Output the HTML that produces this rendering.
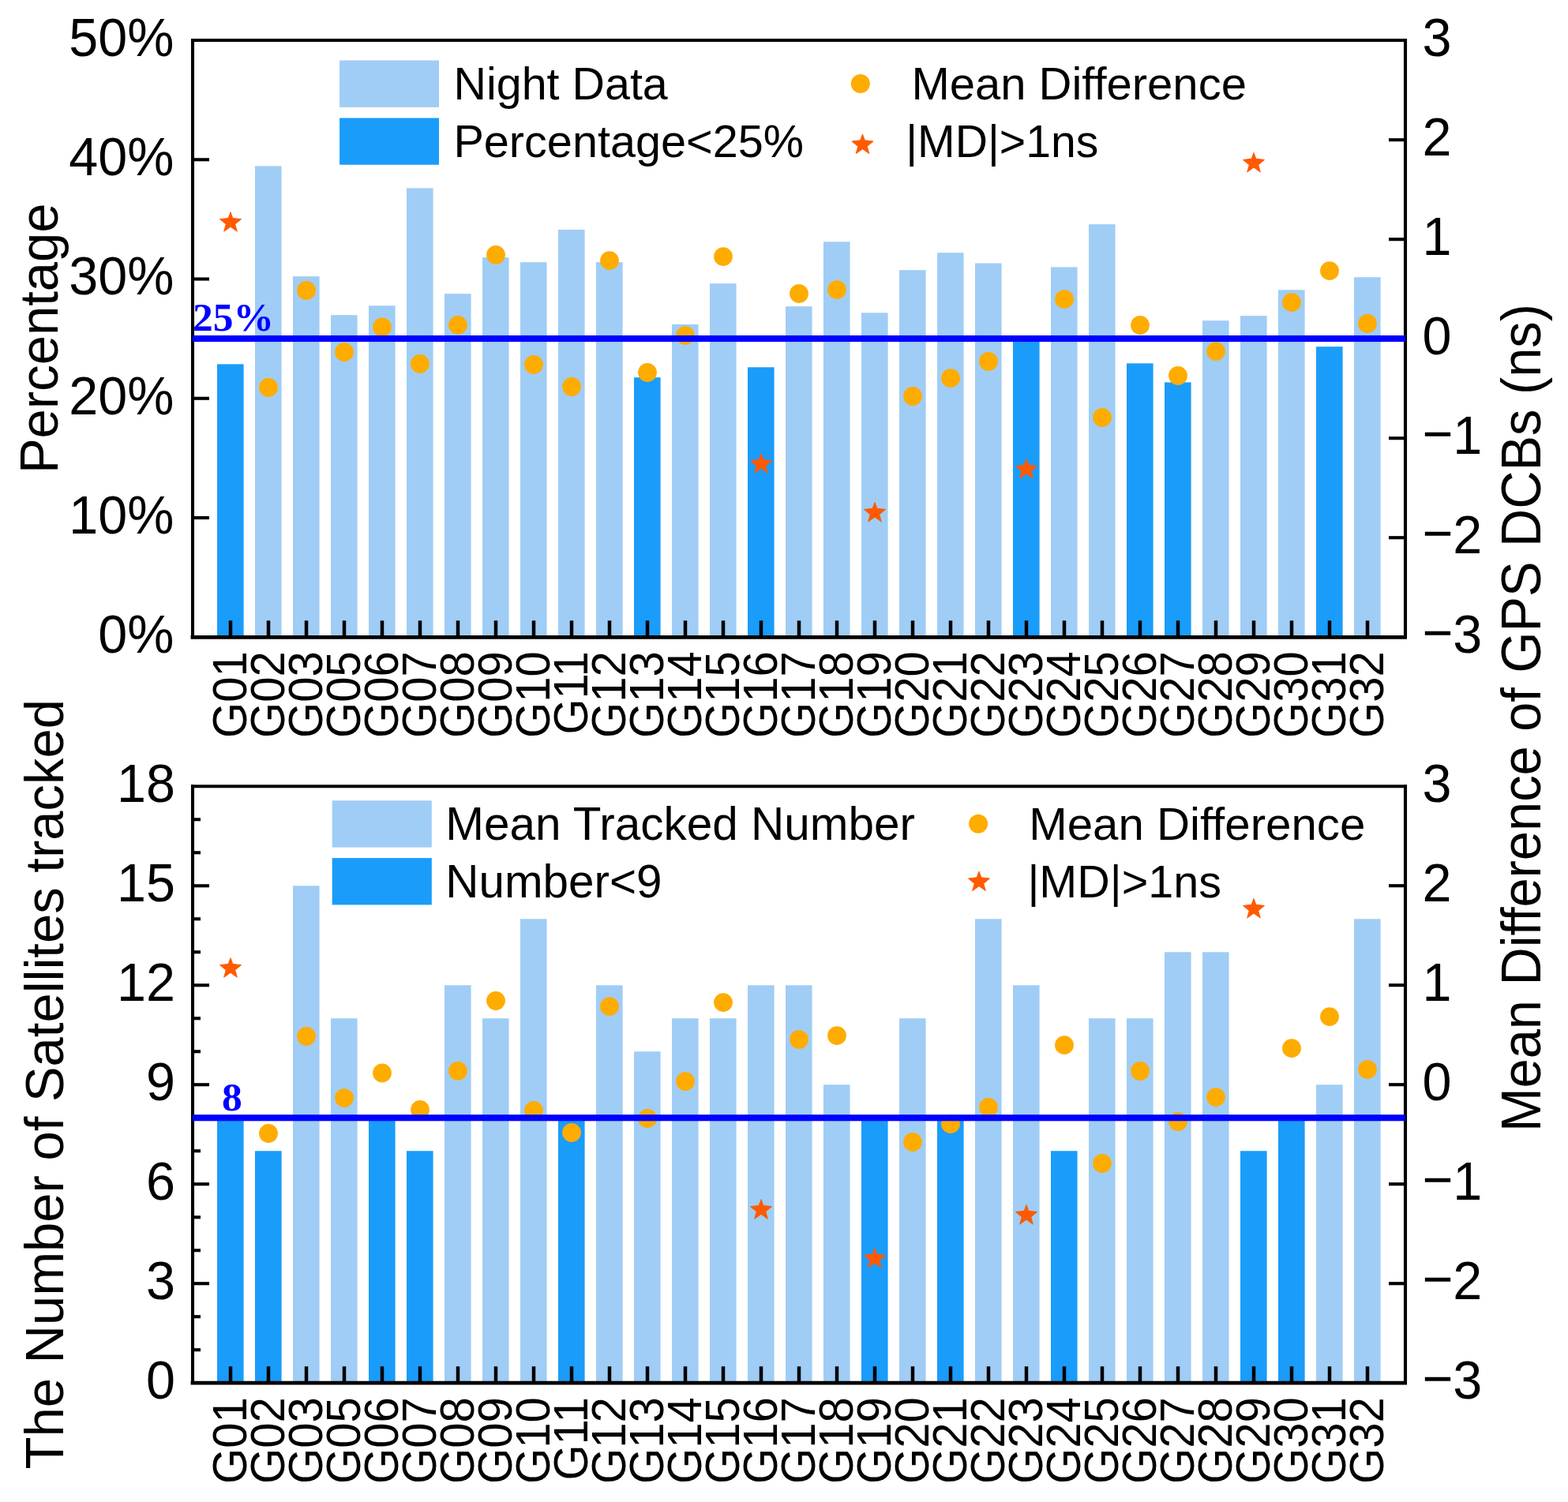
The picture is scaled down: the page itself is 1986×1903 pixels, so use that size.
<!DOCTYPE html>
<html><head><meta charset="utf-8"><title>GPS DCB chart</title>
<style>
html,body{margin:0;padding:0;background:#fff;}
svg{display:block;}
text{font-family:"Liberation Sans",Arial,sans-serif;fill:#000;}
</style></head><body>
<svg width="1986" height="1903" viewBox="0 0 1986 1903">
<rect x="0" y="0" width="1986" height="1903" fill="#fff"/>
<rect x="275.00" y="461.40" width="33.6" height="345.90" fill="#1A9CFA"/>
<rect x="323.00" y="210.40" width="33.6" height="596.90" fill="#A0CDF5"/>
<rect x="371.00" y="350.20" width="33.6" height="457.10" fill="#A0CDF5"/>
<rect x="419.00" y="399.20" width="33.6" height="408.10" fill="#A0CDF5"/>
<rect x="467.00" y="387.30" width="33.6" height="420.00" fill="#A0CDF5"/>
<rect x="515.00" y="238.40" width="33.6" height="568.90" fill="#A0CDF5"/>
<rect x="563.00" y="372.20" width="33.6" height="435.10" fill="#A0CDF5"/>
<rect x="611.00" y="326.20" width="33.6" height="481.10" fill="#A0CDF5"/>
<rect x="659.00" y="332.20" width="33.6" height="475.10" fill="#A0CDF5"/>
<rect x="707.00" y="291.00" width="33.6" height="516.30" fill="#A0CDF5"/>
<rect x="755.00" y="332.20" width="33.6" height="475.10" fill="#A0CDF5"/>
<rect x="803.00" y="478.20" width="33.6" height="329.10" fill="#1A9CFA"/>
<rect x="851.00" y="411.00" width="33.6" height="396.30" fill="#A0CDF5"/>
<rect x="899.00" y="359.20" width="33.6" height="448.10" fill="#A0CDF5"/>
<rect x="947.00" y="465.30" width="33.6" height="342.00" fill="#1A9CFA"/>
<rect x="995.00" y="388.20" width="33.6" height="419.10" fill="#A0CDF5"/>
<rect x="1043.00" y="306.30" width="33.6" height="501.00" fill="#A0CDF5"/>
<rect x="1091.00" y="396.30" width="33.6" height="411.00" fill="#A0CDF5"/>
<rect x="1139.00" y="342.20" width="33.6" height="465.10" fill="#A0CDF5"/>
<rect x="1187.00" y="320.20" width="33.6" height="487.10" fill="#A0CDF5"/>
<rect x="1235.00" y="333.50" width="33.6" height="473.80" fill="#A0CDF5"/>
<rect x="1283.00" y="430.00" width="33.6" height="377.30" fill="#1A9CFA"/>
<rect x="1331.00" y="338.40" width="33.6" height="468.90" fill="#A0CDF5"/>
<rect x="1379.00" y="284.20" width="33.6" height="523.10" fill="#A0CDF5"/>
<rect x="1427.00" y="460.40" width="33.6" height="346.90" fill="#1A9CFA"/>
<rect x="1475.00" y="484.40" width="33.6" height="322.90" fill="#1A9CFA"/>
<rect x="1523.00" y="406.20" width="33.6" height="401.10" fill="#A0CDF5"/>
<rect x="1571.00" y="400.10" width="33.6" height="407.20" fill="#A0CDF5"/>
<rect x="1619.00" y="367.30" width="33.6" height="440.00" fill="#A0CDF5"/>
<rect x="1667.00" y="439.20" width="33.6" height="368.10" fill="#1A9CFA"/>
<rect x="1715.00" y="351.20" width="33.6" height="456.10" fill="#A0CDF5"/>
<path d="M292.00,268.70 L294.79,276.40 L305.48,277.67 L297.72,284.08 L300.29,293.21 L292.00,287.30 L283.71,293.21 L286.28,284.08 L278.52,277.67 L289.21,276.40Z" fill="#FF5A00" stroke="#FF5A00" stroke-width="1" stroke-linejoin="round"/>
<circle cx="340" cy="491.00" r="11.9" fill="#FFAC00"/>
<circle cx="388" cy="368.00" r="11.9" fill="#FFAC00"/>
<circle cx="436" cy="446.10" r="11.9" fill="#FFAC00"/>
<circle cx="484" cy="414.50" r="11.9" fill="#FFAC00"/>
<circle cx="532" cy="461.00" r="11.9" fill="#FFAC00"/>
<circle cx="580" cy="411.80" r="11.9" fill="#FFAC00"/>
<circle cx="628" cy="323.00" r="11.9" fill="#FFAC00"/>
<circle cx="676" cy="462.00" r="11.9" fill="#FFAC00"/>
<circle cx="724" cy="490.00" r="11.9" fill="#FFAC00"/>
<circle cx="772" cy="330.20" r="11.9" fill="#FFAC00"/>
<circle cx="820" cy="472.00" r="11.9" fill="#FFAC00"/>
<circle cx="868" cy="425.10" r="11.9" fill="#FFAC00"/>
<circle cx="916" cy="325.10" r="11.9" fill="#FFAC00"/>
<path d="M964.00,574.70 L966.79,582.40 L977.48,583.67 L969.72,590.08 L972.29,599.21 L964.00,593.30 L955.71,599.21 L958.28,590.08 L950.52,583.67 L961.21,582.40Z" fill="#FF5A00" stroke="#FF5A00" stroke-width="1" stroke-linejoin="round"/>
<circle cx="1012" cy="372.00" r="11.9" fill="#FFAC00"/>
<circle cx="1060" cy="367.10" r="11.9" fill="#FFAC00"/>
<path d="M1108.00,636.50 L1110.79,644.20 L1121.48,645.47 L1113.72,651.88 L1116.29,661.01 L1108.00,655.10 L1099.71,661.01 L1102.28,651.88 L1094.52,645.47 L1105.21,644.20Z" fill="#FF5A00" stroke="#FF5A00" stroke-width="1" stroke-linejoin="round"/>
<circle cx="1156" cy="502.00" r="11.9" fill="#FFAC00"/>
<circle cx="1204" cy="479.20" r="11.9" fill="#FFAC00"/>
<circle cx="1252" cy="458.00" r="11.9" fill="#FFAC00"/>
<path d="M1300.00,581.60 L1302.79,589.30 L1313.48,590.57 L1305.72,596.98 L1308.29,606.11 L1300.00,600.20 L1291.71,606.11 L1294.28,596.98 L1286.52,590.57 L1297.21,589.30Z" fill="#FF5A00" stroke="#FF5A00" stroke-width="1" stroke-linejoin="round"/>
<circle cx="1348" cy="379.20" r="11.9" fill="#FFAC00"/>
<circle cx="1396" cy="529.00" r="11.9" fill="#FFAC00"/>
<circle cx="1444" cy="412.00" r="11.9" fill="#FFAC00"/>
<circle cx="1492" cy="476.00" r="11.9" fill="#FFAC00"/>
<circle cx="1540" cy="445.10" r="11.9" fill="#FFAC00"/>
<path d="M1588.00,193.50 L1590.79,201.20 L1601.48,202.47 L1593.72,208.88 L1596.29,218.01 L1588.00,212.10 L1579.71,218.01 L1582.28,208.88 L1574.52,202.47 L1585.21,201.20Z" fill="#FF5A00" stroke="#FF5A00" stroke-width="1" stroke-linejoin="round"/>
<circle cx="1636" cy="383.20" r="11.9" fill="#FFAC00"/>
<circle cx="1684" cy="343.20" r="11.9" fill="#FFAC00"/>
<circle cx="1732" cy="410.00" r="11.9" fill="#FFAC00"/>
<line x1="242" y1="51.00" x2="1782" y2="51.00" stroke="#000" stroke-width="3.9"/>
<line x1="241.6" y1="807.30" x2="1782" y2="807.30" stroke="#000" stroke-width="4.8"/>
<line x1="244" y1="49.05" x2="244" y2="807.30" stroke="#000" stroke-width="4.1"/>
<line x1="1780" y1="49.05" x2="1780" y2="807.30" stroke="#000" stroke-width="4.1"/>
<line x1="292" y1="807.30" x2="292" y2="786.30" stroke="#000" stroke-width="4.5"/>
<line x1="340" y1="807.30" x2="340" y2="786.30" stroke="#000" stroke-width="4.5"/>
<line x1="388" y1="807.30" x2="388" y2="786.30" stroke="#000" stroke-width="4.5"/>
<line x1="436" y1="807.30" x2="436" y2="786.30" stroke="#000" stroke-width="4.5"/>
<line x1="484" y1="807.30" x2="484" y2="786.30" stroke="#000" stroke-width="4.5"/>
<line x1="532" y1="807.30" x2="532" y2="786.30" stroke="#000" stroke-width="4.5"/>
<line x1="580" y1="807.30" x2="580" y2="786.30" stroke="#000" stroke-width="4.5"/>
<line x1="628" y1="807.30" x2="628" y2="786.30" stroke="#000" stroke-width="4.5"/>
<line x1="676" y1="807.30" x2="676" y2="786.30" stroke="#000" stroke-width="4.5"/>
<line x1="724" y1="807.30" x2="724" y2="786.30" stroke="#000" stroke-width="4.5"/>
<line x1="772" y1="807.30" x2="772" y2="786.30" stroke="#000" stroke-width="4.5"/>
<line x1="820" y1="807.30" x2="820" y2="786.30" stroke="#000" stroke-width="4.5"/>
<line x1="868" y1="807.30" x2="868" y2="786.30" stroke="#000" stroke-width="4.5"/>
<line x1="916" y1="807.30" x2="916" y2="786.30" stroke="#000" stroke-width="4.5"/>
<line x1="964" y1="807.30" x2="964" y2="786.30" stroke="#000" stroke-width="4.5"/>
<line x1="1012" y1="807.30" x2="1012" y2="786.30" stroke="#000" stroke-width="4.5"/>
<line x1="1060" y1="807.30" x2="1060" y2="786.30" stroke="#000" stroke-width="4.5"/>
<line x1="1108" y1="807.30" x2="1108" y2="786.30" stroke="#000" stroke-width="4.5"/>
<line x1="1156" y1="807.30" x2="1156" y2="786.30" stroke="#000" stroke-width="4.5"/>
<line x1="1204" y1="807.30" x2="1204" y2="786.30" stroke="#000" stroke-width="4.5"/>
<line x1="1252" y1="807.30" x2="1252" y2="786.30" stroke="#000" stroke-width="4.5"/>
<line x1="1300" y1="807.30" x2="1300" y2="786.30" stroke="#000" stroke-width="4.5"/>
<line x1="1348" y1="807.30" x2="1348" y2="786.30" stroke="#000" stroke-width="4.5"/>
<line x1="1396" y1="807.30" x2="1396" y2="786.30" stroke="#000" stroke-width="4.5"/>
<line x1="1444" y1="807.30" x2="1444" y2="786.30" stroke="#000" stroke-width="4.5"/>
<line x1="1492" y1="807.30" x2="1492" y2="786.30" stroke="#000" stroke-width="4.5"/>
<line x1="1540" y1="807.30" x2="1540" y2="786.30" stroke="#000" stroke-width="4.5"/>
<line x1="1588" y1="807.30" x2="1588" y2="786.30" stroke="#000" stroke-width="4.5"/>
<line x1="1636" y1="807.30" x2="1636" y2="786.30" stroke="#000" stroke-width="4.5"/>
<line x1="1684" y1="807.30" x2="1684" y2="786.30" stroke="#000" stroke-width="4.5"/>
<line x1="1732" y1="807.30" x2="1732" y2="786.30" stroke="#000" stroke-width="4.5"/>
<line x1="244" y1="656.04" x2="265.00" y2="656.04" stroke="#000" stroke-width="4.1"/>
<line x1="244" y1="504.78" x2="265.00" y2="504.78" stroke="#000" stroke-width="4.1"/>
<line x1="244" y1="353.52" x2="265.00" y2="353.52" stroke="#000" stroke-width="4.1"/>
<line x1="244" y1="202.26" x2="265.00" y2="202.26" stroke="#000" stroke-width="4.1"/>
<line x1="1780" y1="681.20" x2="1759" y2="681.20" stroke="#000" stroke-width="4.1"/>
<line x1="1780" y1="555.20" x2="1759" y2="555.20" stroke="#000" stroke-width="4.1"/>
<line x1="1780" y1="303.20" x2="1759" y2="303.20" stroke="#000" stroke-width="4.1"/>
<line x1="1780" y1="177.20" x2="1759" y2="177.20" stroke="#000" stroke-width="4.1"/>
<line x1="1780" y1="429.20" x2="1759" y2="429.20" stroke="#000" stroke-width="4.1"/>
<rect x="244" y="424.95" width="1536" height="8.1" fill="#0000FF"/>
<text x="244.00" y="419.30" style="font-family:'Liberation Serif',serif;font-weight:bold;font-size:51.5px;fill:#0000FF">25%</text>
<text transform="translate(312.00,825.30) rotate(-90) scale(1,1.05)" text-anchor="end" font-size="58">G01</text>
<text transform="translate(360.00,825.30) rotate(-90) scale(1,1.05)" text-anchor="end" font-size="58">G02</text>
<text transform="translate(408.00,825.30) rotate(-90) scale(1,1.05)" text-anchor="end" font-size="58">G03</text>
<text transform="translate(456.00,825.30) rotate(-90) scale(1,1.05)" text-anchor="end" font-size="58">G05</text>
<text transform="translate(504.00,825.30) rotate(-90) scale(1,1.05)" text-anchor="end" font-size="58">G06</text>
<text transform="translate(552.00,825.30) rotate(-90) scale(1,1.05)" text-anchor="end" font-size="58">G07</text>
<text transform="translate(600.00,825.30) rotate(-90) scale(1,1.05)" text-anchor="end" font-size="58">G08</text>
<text transform="translate(648.00,825.30) rotate(-90) scale(1,1.05)" text-anchor="end" font-size="58">G09</text>
<text transform="translate(696.00,825.30) rotate(-90) scale(1,1.05)" text-anchor="end" font-size="58">G10</text>
<text transform="translate(744.00,825.30) rotate(-90) scale(1,1.05)" text-anchor="end" font-size="58">G11</text>
<text transform="translate(792.00,825.30) rotate(-90) scale(1,1.05)" text-anchor="end" font-size="58">G12</text>
<text transform="translate(840.00,825.30) rotate(-90) scale(1,1.05)" text-anchor="end" font-size="58">G13</text>
<text transform="translate(888.00,825.30) rotate(-90) scale(1,1.05)" text-anchor="end" font-size="58">G14</text>
<text transform="translate(936.00,825.30) rotate(-90) scale(1,1.05)" text-anchor="end" font-size="58">G15</text>
<text transform="translate(984.00,825.30) rotate(-90) scale(1,1.05)" text-anchor="end" font-size="58">G16</text>
<text transform="translate(1032.00,825.30) rotate(-90) scale(1,1.05)" text-anchor="end" font-size="58">G17</text>
<text transform="translate(1080.00,825.30) rotate(-90) scale(1,1.05)" text-anchor="end" font-size="58">G18</text>
<text transform="translate(1128.00,825.30) rotate(-90) scale(1,1.05)" text-anchor="end" font-size="58">G19</text>
<text transform="translate(1176.00,825.30) rotate(-90) scale(1,1.05)" text-anchor="end" font-size="58">G20</text>
<text transform="translate(1224.00,825.30) rotate(-90) scale(1,1.05)" text-anchor="end" font-size="58">G21</text>
<text transform="translate(1272.00,825.30) rotate(-90) scale(1,1.05)" text-anchor="end" font-size="58">G22</text>
<text transform="translate(1320.00,825.30) rotate(-90) scale(1,1.05)" text-anchor="end" font-size="58">G23</text>
<text transform="translate(1368.00,825.30) rotate(-90) scale(1,1.05)" text-anchor="end" font-size="58">G24</text>
<text transform="translate(1416.00,825.30) rotate(-90) scale(1,1.05)" text-anchor="end" font-size="58">G25</text>
<text transform="translate(1464.00,825.30) rotate(-90) scale(1,1.05)" text-anchor="end" font-size="58">G26</text>
<text transform="translate(1512.00,825.30) rotate(-90) scale(1,1.05)" text-anchor="end" font-size="58">G27</text>
<text transform="translate(1560.00,825.30) rotate(-90) scale(1,1.05)" text-anchor="end" font-size="58">G28</text>
<text transform="translate(1608.00,825.30) rotate(-90) scale(1,1.05)" text-anchor="end" font-size="58">G29</text>
<text transform="translate(1656.00,825.30) rotate(-90) scale(1,1.05)" text-anchor="end" font-size="58">G30</text>
<text transform="translate(1704.00,825.30) rotate(-90) scale(1,1.05)" text-anchor="end" font-size="58">G31</text>
<text transform="translate(1752.00,825.30) rotate(-90) scale(1,1.05)" text-anchor="end" font-size="58">G32</text>
<text transform="translate(1801.5,71.00) scale(1,1.036)" font-size="66.5">3</text>
<text transform="translate(1801.5,197.00) scale(1,1.036)" font-size="66.5">2</text>
<text transform="translate(1801.5,323.00) scale(1,1.036)" font-size="66.5">1</text>
<text transform="translate(1801.5,449.00) scale(1,1.036)" font-size="66.5">0</text>
<text transform="translate(1801.5,575.00) scale(1,1.036)" font-size="66.5"><tspan dy="-1.5">−</tspan><tspan dy="1.5">1</tspan></text>
<text transform="translate(1801.5,701.00) scale(1,1.036)" font-size="66.5"><tspan dy="-1.5">−</tspan><tspan dy="1.5">2</tspan></text>
<text transform="translate(1801.5,827.00) scale(1,1.036)" font-size="66.5"><tspan dy="-1.5">−</tspan><tspan dy="1.5">3</tspan></text>
<rect x="430.10" y="76.50" width="125.90" height="59.40" fill="#A0CDF5"/>
<rect x="430.10" y="149.50" width="125.90" height="59.20" fill="#1A9CFA"/>
<text x="574.50" y="126.40" font-size="57.43">Night Data</text>
<text x="574.40" y="199.10" font-size="57.61">Percentage&lt;25%</text>
<text x="1154.40" y="126.20" font-size="58.0">Mean Difference</text>
<text x="1147.20" y="199.10" font-size="57.17">|MD|&gt;1ns</text>
<circle cx="1089.80" cy="106.00" r="12" fill="#FFAC00"/>
<path d="M1092.50,170.10 L1095.29,177.80 L1105.98,179.07 L1098.22,185.48 L1100.79,194.61 L1092.50,188.70 L1084.21,194.61 L1086.78,185.48 L1079.02,179.07 L1089.71,177.80Z" fill="#FF5A00" stroke="#FF5A00" stroke-width="1" stroke-linejoin="round"/>
<text transform="translate(220.3,827.10) scale(1,1.036)" text-anchor="end" font-size="66.5">0%</text>
<text transform="translate(220.3,675.84) scale(1,1.036)" text-anchor="end" font-size="66.5">10%</text>
<text transform="translate(220.3,524.58) scale(1,1.036)" text-anchor="end" font-size="66.5">20%</text>
<text transform="translate(220.3,373.32) scale(1,1.036)" text-anchor="end" font-size="66.5">30%</text>
<text transform="translate(220.3,222.06) scale(1,1.036)" text-anchor="end" font-size="66.5">40%</text>
<text transform="translate(220.3,70.80) scale(1,1.036)" text-anchor="end" font-size="66.5">50%</text>
<rect x="275.00" y="1416.24" width="33.6" height="335.96" fill="#1A9CFA"/>
<rect x="323.00" y="1458.24" width="33.6" height="293.96" fill="#1A9CFA"/>
<rect x="371.00" y="1122.28" width="33.6" height="629.92" fill="#A0CDF5"/>
<rect x="419.00" y="1290.26" width="33.6" height="461.94" fill="#A0CDF5"/>
<rect x="467.00" y="1416.24" width="33.6" height="335.96" fill="#1A9CFA"/>
<rect x="515.00" y="1458.24" width="33.6" height="293.96" fill="#1A9CFA"/>
<rect x="563.00" y="1248.27" width="33.6" height="503.93" fill="#A0CDF5"/>
<rect x="611.00" y="1290.26" width="33.6" height="461.94" fill="#A0CDF5"/>
<rect x="659.00" y="1164.28" width="33.6" height="587.92" fill="#A0CDF5"/>
<rect x="707.00" y="1416.24" width="33.6" height="335.96" fill="#1A9CFA"/>
<rect x="755.00" y="1248.27" width="33.6" height="503.93" fill="#A0CDF5"/>
<rect x="803.00" y="1332.26" width="33.6" height="419.94" fill="#A0CDF5"/>
<rect x="851.00" y="1290.26" width="33.6" height="461.94" fill="#A0CDF5"/>
<rect x="899.00" y="1290.26" width="33.6" height="461.94" fill="#A0CDF5"/>
<rect x="947.00" y="1248.27" width="33.6" height="503.93" fill="#A0CDF5"/>
<rect x="995.00" y="1248.27" width="33.6" height="503.93" fill="#A0CDF5"/>
<rect x="1043.00" y="1374.25" width="33.6" height="377.95" fill="#A0CDF5"/>
<rect x="1091.00" y="1416.24" width="33.6" height="335.96" fill="#1A9CFA"/>
<rect x="1139.00" y="1290.26" width="33.6" height="461.94" fill="#A0CDF5"/>
<rect x="1187.00" y="1416.24" width="33.6" height="335.96" fill="#1A9CFA"/>
<rect x="1235.00" y="1164.28" width="33.6" height="587.92" fill="#A0CDF5"/>
<rect x="1283.00" y="1248.27" width="33.6" height="503.93" fill="#A0CDF5"/>
<rect x="1331.00" y="1458.24" width="33.6" height="293.96" fill="#1A9CFA"/>
<rect x="1379.00" y="1290.26" width="33.6" height="461.94" fill="#A0CDF5"/>
<rect x="1427.00" y="1290.26" width="33.6" height="461.94" fill="#A0CDF5"/>
<rect x="1475.00" y="1206.27" width="33.6" height="545.93" fill="#A0CDF5"/>
<rect x="1523.00" y="1206.27" width="33.6" height="545.93" fill="#A0CDF5"/>
<rect x="1571.00" y="1458.24" width="33.6" height="293.96" fill="#1A9CFA"/>
<rect x="1619.00" y="1416.24" width="33.6" height="335.96" fill="#1A9CFA"/>
<rect x="1667.00" y="1374.25" width="33.6" height="377.95" fill="#A0CDF5"/>
<rect x="1715.00" y="1164.28" width="33.6" height="587.92" fill="#A0CDF5"/>
<path d="M292.00,1213.70 L294.79,1221.40 L305.48,1222.67 L297.72,1229.08 L300.29,1238.21 L292.00,1232.30 L283.71,1238.21 L286.28,1229.08 L278.52,1222.67 L289.21,1221.40Z" fill="#FF5A00" stroke="#FF5A00" stroke-width="1" stroke-linejoin="round"/>
<circle cx="340" cy="1436.00" r="11.9" fill="#FFAC00"/>
<circle cx="388" cy="1313.00" r="11.9" fill="#FFAC00"/>
<circle cx="436" cy="1391.10" r="11.9" fill="#FFAC00"/>
<circle cx="484" cy="1359.50" r="11.9" fill="#FFAC00"/>
<circle cx="532" cy="1406.00" r="11.9" fill="#FFAC00"/>
<circle cx="580" cy="1356.80" r="11.9" fill="#FFAC00"/>
<circle cx="628" cy="1268.00" r="11.9" fill="#FFAC00"/>
<circle cx="676" cy="1407.00" r="11.9" fill="#FFAC00"/>
<circle cx="724" cy="1435.00" r="11.9" fill="#FFAC00"/>
<circle cx="772" cy="1275.20" r="11.9" fill="#FFAC00"/>
<circle cx="820" cy="1417.00" r="11.9" fill="#FFAC00"/>
<circle cx="868" cy="1370.10" r="11.9" fill="#FFAC00"/>
<circle cx="916" cy="1270.10" r="11.9" fill="#FFAC00"/>
<path d="M964.00,1519.70 L966.79,1527.40 L977.48,1528.67 L969.72,1535.08 L972.29,1544.21 L964.00,1538.30 L955.71,1544.21 L958.28,1535.08 L950.52,1528.67 L961.21,1527.40Z" fill="#FF5A00" stroke="#FF5A00" stroke-width="1" stroke-linejoin="round"/>
<circle cx="1012" cy="1317.00" r="11.9" fill="#FFAC00"/>
<circle cx="1060" cy="1312.10" r="11.9" fill="#FFAC00"/>
<path d="M1108.00,1581.50 L1110.79,1589.20 L1121.48,1590.47 L1113.72,1596.88 L1116.29,1606.01 L1108.00,1600.10 L1099.71,1606.01 L1102.28,1596.88 L1094.52,1590.47 L1105.21,1589.20Z" fill="#FF5A00" stroke="#FF5A00" stroke-width="1" stroke-linejoin="round"/>
<circle cx="1156" cy="1447.00" r="11.9" fill="#FFAC00"/>
<circle cx="1204" cy="1424.20" r="11.9" fill="#FFAC00"/>
<circle cx="1252" cy="1403.00" r="11.9" fill="#FFAC00"/>
<path d="M1300.00,1526.60 L1302.79,1534.30 L1313.48,1535.57 L1305.72,1541.98 L1308.29,1551.11 L1300.00,1545.20 L1291.71,1551.11 L1294.28,1541.98 L1286.52,1535.57 L1297.21,1534.30Z" fill="#FF5A00" stroke="#FF5A00" stroke-width="1" stroke-linejoin="round"/>
<circle cx="1348" cy="1324.20" r="11.9" fill="#FFAC00"/>
<circle cx="1396" cy="1474.00" r="11.9" fill="#FFAC00"/>
<circle cx="1444" cy="1357.00" r="11.9" fill="#FFAC00"/>
<circle cx="1492" cy="1421.00" r="11.9" fill="#FFAC00"/>
<circle cx="1540" cy="1390.10" r="11.9" fill="#FFAC00"/>
<path d="M1588.00,1138.50 L1590.79,1146.20 L1601.48,1147.47 L1593.72,1153.88 L1596.29,1163.01 L1588.00,1157.10 L1579.71,1163.01 L1582.28,1153.88 L1574.52,1147.47 L1585.21,1146.20Z" fill="#FF5A00" stroke="#FF5A00" stroke-width="1" stroke-linejoin="round"/>
<circle cx="1636" cy="1328.20" r="11.9" fill="#FFAC00"/>
<circle cx="1684" cy="1288.20" r="11.9" fill="#FFAC00"/>
<circle cx="1732" cy="1355.00" r="11.9" fill="#FFAC00"/>
<line x1="242" y1="996.30" x2="1782" y2="996.30" stroke="#000" stroke-width="3.9"/>
<line x1="241.6" y1="1752.20" x2="1782" y2="1752.20" stroke="#000" stroke-width="4.8"/>
<line x1="244" y1="994.35" x2="244" y2="1752.20" stroke="#000" stroke-width="4.1"/>
<line x1="1780" y1="994.35" x2="1780" y2="1752.20" stroke="#000" stroke-width="4.1"/>
<line x1="292" y1="1752.20" x2="292" y2="1731.20" stroke="#000" stroke-width="4.5"/>
<line x1="340" y1="1752.20" x2="340" y2="1731.20" stroke="#000" stroke-width="4.5"/>
<line x1="388" y1="1752.20" x2="388" y2="1731.20" stroke="#000" stroke-width="4.5"/>
<line x1="436" y1="1752.20" x2="436" y2="1731.20" stroke="#000" stroke-width="4.5"/>
<line x1="484" y1="1752.20" x2="484" y2="1731.20" stroke="#000" stroke-width="4.5"/>
<line x1="532" y1="1752.20" x2="532" y2="1731.20" stroke="#000" stroke-width="4.5"/>
<line x1="580" y1="1752.20" x2="580" y2="1731.20" stroke="#000" stroke-width="4.5"/>
<line x1="628" y1="1752.20" x2="628" y2="1731.20" stroke="#000" stroke-width="4.5"/>
<line x1="676" y1="1752.20" x2="676" y2="1731.20" stroke="#000" stroke-width="4.5"/>
<line x1="724" y1="1752.20" x2="724" y2="1731.20" stroke="#000" stroke-width="4.5"/>
<line x1="772" y1="1752.20" x2="772" y2="1731.20" stroke="#000" stroke-width="4.5"/>
<line x1="820" y1="1752.20" x2="820" y2="1731.20" stroke="#000" stroke-width="4.5"/>
<line x1="868" y1="1752.20" x2="868" y2="1731.20" stroke="#000" stroke-width="4.5"/>
<line x1="916" y1="1752.20" x2="916" y2="1731.20" stroke="#000" stroke-width="4.5"/>
<line x1="964" y1="1752.20" x2="964" y2="1731.20" stroke="#000" stroke-width="4.5"/>
<line x1="1012" y1="1752.20" x2="1012" y2="1731.20" stroke="#000" stroke-width="4.5"/>
<line x1="1060" y1="1752.20" x2="1060" y2="1731.20" stroke="#000" stroke-width="4.5"/>
<line x1="1108" y1="1752.20" x2="1108" y2="1731.20" stroke="#000" stroke-width="4.5"/>
<line x1="1156" y1="1752.20" x2="1156" y2="1731.20" stroke="#000" stroke-width="4.5"/>
<line x1="1204" y1="1752.20" x2="1204" y2="1731.20" stroke="#000" stroke-width="4.5"/>
<line x1="1252" y1="1752.20" x2="1252" y2="1731.20" stroke="#000" stroke-width="4.5"/>
<line x1="1300" y1="1752.20" x2="1300" y2="1731.20" stroke="#000" stroke-width="4.5"/>
<line x1="1348" y1="1752.20" x2="1348" y2="1731.20" stroke="#000" stroke-width="4.5"/>
<line x1="1396" y1="1752.20" x2="1396" y2="1731.20" stroke="#000" stroke-width="4.5"/>
<line x1="1444" y1="1752.20" x2="1444" y2="1731.20" stroke="#000" stroke-width="4.5"/>
<line x1="1492" y1="1752.20" x2="1492" y2="1731.20" stroke="#000" stroke-width="4.5"/>
<line x1="1540" y1="1752.20" x2="1540" y2="1731.20" stroke="#000" stroke-width="4.5"/>
<line x1="1588" y1="1752.20" x2="1588" y2="1731.20" stroke="#000" stroke-width="4.5"/>
<line x1="1636" y1="1752.20" x2="1636" y2="1731.20" stroke="#000" stroke-width="4.5"/>
<line x1="1684" y1="1752.20" x2="1684" y2="1731.20" stroke="#000" stroke-width="4.5"/>
<line x1="1732" y1="1752.20" x2="1732" y2="1731.20" stroke="#000" stroke-width="4.5"/>
<line x1="244" y1="1710.21" x2="254.00" y2="1710.21" stroke="#000" stroke-width="4.1"/>
<line x1="244" y1="1668.21" x2="254.00" y2="1668.21" stroke="#000" stroke-width="4.1"/>
<line x1="244" y1="1626.22" x2="265.00" y2="1626.22" stroke="#000" stroke-width="4.1"/>
<line x1="244" y1="1584.22" x2="254.00" y2="1584.22" stroke="#000" stroke-width="4.1"/>
<line x1="244" y1="1542.23" x2="254.00" y2="1542.23" stroke="#000" stroke-width="4.1"/>
<line x1="244" y1="1500.23" x2="265.00" y2="1500.23" stroke="#000" stroke-width="4.1"/>
<line x1="244" y1="1458.24" x2="254.00" y2="1458.24" stroke="#000" stroke-width="4.1"/>
<line x1="244" y1="1416.24" x2="254.00" y2="1416.24" stroke="#000" stroke-width="4.1"/>
<line x1="244" y1="1374.25" x2="265.00" y2="1374.25" stroke="#000" stroke-width="4.1"/>
<line x1="244" y1="1332.26" x2="254.00" y2="1332.26" stroke="#000" stroke-width="4.1"/>
<line x1="244" y1="1290.26" x2="254.00" y2="1290.26" stroke="#000" stroke-width="4.1"/>
<line x1="244" y1="1248.27" x2="265.00" y2="1248.27" stroke="#000" stroke-width="4.1"/>
<line x1="244" y1="1206.27" x2="254.00" y2="1206.27" stroke="#000" stroke-width="4.1"/>
<line x1="244" y1="1164.28" x2="254.00" y2="1164.28" stroke="#000" stroke-width="4.1"/>
<line x1="244" y1="1122.28" x2="265.00" y2="1122.28" stroke="#000" stroke-width="4.1"/>
<line x1="244" y1="1080.29" x2="254.00" y2="1080.29" stroke="#000" stroke-width="4.1"/>
<line x1="244" y1="1038.29" x2="254.00" y2="1038.29" stroke="#000" stroke-width="4.1"/>
<line x1="1780" y1="1626.20" x2="1759" y2="1626.20" stroke="#000" stroke-width="4.1"/>
<line x1="1780" y1="1500.20" x2="1759" y2="1500.20" stroke="#000" stroke-width="4.1"/>
<line x1="1780" y1="1248.20" x2="1759" y2="1248.20" stroke="#000" stroke-width="4.1"/>
<line x1="1780" y1="1122.20" x2="1759" y2="1122.20" stroke="#000" stroke-width="4.1"/>
<line x1="1780" y1="1374.20" x2="1759" y2="1374.20" stroke="#000" stroke-width="4.1"/>
<rect x="244" y="1412.19" width="1536" height="8.1" fill="#0000FF"/>
<text x="281.00" y="1407.30" style="font-family:'Liberation Serif',serif;font-weight:bold;font-size:51.5px;fill:#0000FF">8</text>
<text transform="translate(312.00,1770.30) rotate(-90) scale(1,1.05)" text-anchor="end" font-size="58">G01</text>
<text transform="translate(360.00,1770.30) rotate(-90) scale(1,1.05)" text-anchor="end" font-size="58">G02</text>
<text transform="translate(408.00,1770.30) rotate(-90) scale(1,1.05)" text-anchor="end" font-size="58">G03</text>
<text transform="translate(456.00,1770.30) rotate(-90) scale(1,1.05)" text-anchor="end" font-size="58">G05</text>
<text transform="translate(504.00,1770.30) rotate(-90) scale(1,1.05)" text-anchor="end" font-size="58">G06</text>
<text transform="translate(552.00,1770.30) rotate(-90) scale(1,1.05)" text-anchor="end" font-size="58">G07</text>
<text transform="translate(600.00,1770.30) rotate(-90) scale(1,1.05)" text-anchor="end" font-size="58">G08</text>
<text transform="translate(648.00,1770.30) rotate(-90) scale(1,1.05)" text-anchor="end" font-size="58">G09</text>
<text transform="translate(696.00,1770.30) rotate(-90) scale(1,1.05)" text-anchor="end" font-size="58">G10</text>
<text transform="translate(744.00,1770.30) rotate(-90) scale(1,1.05)" text-anchor="end" font-size="58">G11</text>
<text transform="translate(792.00,1770.30) rotate(-90) scale(1,1.05)" text-anchor="end" font-size="58">G12</text>
<text transform="translate(840.00,1770.30) rotate(-90) scale(1,1.05)" text-anchor="end" font-size="58">G13</text>
<text transform="translate(888.00,1770.30) rotate(-90) scale(1,1.05)" text-anchor="end" font-size="58">G14</text>
<text transform="translate(936.00,1770.30) rotate(-90) scale(1,1.05)" text-anchor="end" font-size="58">G15</text>
<text transform="translate(984.00,1770.30) rotate(-90) scale(1,1.05)" text-anchor="end" font-size="58">G16</text>
<text transform="translate(1032.00,1770.30) rotate(-90) scale(1,1.05)" text-anchor="end" font-size="58">G17</text>
<text transform="translate(1080.00,1770.30) rotate(-90) scale(1,1.05)" text-anchor="end" font-size="58">G18</text>
<text transform="translate(1128.00,1770.30) rotate(-90) scale(1,1.05)" text-anchor="end" font-size="58">G19</text>
<text transform="translate(1176.00,1770.30) rotate(-90) scale(1,1.05)" text-anchor="end" font-size="58">G20</text>
<text transform="translate(1224.00,1770.30) rotate(-90) scale(1,1.05)" text-anchor="end" font-size="58">G21</text>
<text transform="translate(1272.00,1770.30) rotate(-90) scale(1,1.05)" text-anchor="end" font-size="58">G22</text>
<text transform="translate(1320.00,1770.30) rotate(-90) scale(1,1.05)" text-anchor="end" font-size="58">G23</text>
<text transform="translate(1368.00,1770.30) rotate(-90) scale(1,1.05)" text-anchor="end" font-size="58">G24</text>
<text transform="translate(1416.00,1770.30) rotate(-90) scale(1,1.05)" text-anchor="end" font-size="58">G25</text>
<text transform="translate(1464.00,1770.30) rotate(-90) scale(1,1.05)" text-anchor="end" font-size="58">G26</text>
<text transform="translate(1512.00,1770.30) rotate(-90) scale(1,1.05)" text-anchor="end" font-size="58">G27</text>
<text transform="translate(1560.00,1770.30) rotate(-90) scale(1,1.05)" text-anchor="end" font-size="58">G28</text>
<text transform="translate(1608.00,1770.30) rotate(-90) scale(1,1.05)" text-anchor="end" font-size="58">G29</text>
<text transform="translate(1656.00,1770.30) rotate(-90) scale(1,1.05)" text-anchor="end" font-size="58">G30</text>
<text transform="translate(1704.00,1770.30) rotate(-90) scale(1,1.05)" text-anchor="end" font-size="58">G31</text>
<text transform="translate(1752.00,1770.30) rotate(-90) scale(1,1.05)" text-anchor="end" font-size="58">G32</text>
<text transform="translate(1801.5,1016.00) scale(1,1.036)" font-size="66.5">3</text>
<text transform="translate(1801.5,1142.00) scale(1,1.036)" font-size="66.5">2</text>
<text transform="translate(1801.5,1268.00) scale(1,1.036)" font-size="66.5">1</text>
<text transform="translate(1801.5,1394.00) scale(1,1.036)" font-size="66.5">0</text>
<text transform="translate(1801.5,1520.00) scale(1,1.036)" font-size="66.5"><tspan dy="-1.5">−</tspan><tspan dy="1.5">1</tspan></text>
<text transform="translate(1801.5,1646.00) scale(1,1.036)" font-size="66.5"><tspan dy="-1.5">−</tspan><tspan dy="1.5">2</tspan></text>
<text transform="translate(1801.5,1772.00) scale(1,1.036)" font-size="66.5"><tspan dy="-1.5">−</tspan><tspan dy="1.5">3</tspan></text>
<rect x="420.70" y="1014.30" width="126.10" height="59.30" fill="#A0CDF5"/>
<rect x="420.70" y="1087.10" width="126.10" height="59.30" fill="#1A9CFA"/>
<text x="564.30" y="1064.00" font-size="58.47">Mean Tracked Number</text>
<text x="564.30" y="1137.20" font-size="58.38">Number&lt;9</text>
<text x="1303.20" y="1063.80" font-size="58.22">Mean Difference</text>
<text x="1301.40" y="1137.10" font-size="57.51">|MD|&gt;1ns</text>
<circle cx="1239.10" cy="1043.80" r="12" fill="#FFAC00"/>
<path d="M1240.00,1104.10 L1242.79,1111.80 L1253.48,1113.07 L1245.72,1119.48 L1248.29,1128.61 L1240.00,1122.70 L1231.71,1128.61 L1234.28,1119.48 L1226.52,1113.07 L1237.21,1111.80Z" fill="#FF5A00" stroke="#FF5A00" stroke-width="1" stroke-linejoin="round"/>
<text transform="translate(222,1771.50) scale(1,1.036)" text-anchor="end" font-size="66.5">0</text>
<text transform="translate(222,1645.52) scale(1,1.036)" text-anchor="end" font-size="66.5">3</text>
<text transform="translate(222,1519.53) scale(1,1.036)" text-anchor="end" font-size="66.5">6</text>
<text transform="translate(222,1393.55) scale(1,1.036)" text-anchor="end" font-size="66.5">9</text>
<text transform="translate(222,1267.57) scale(1,1.036)" text-anchor="end" font-size="66.5">12</text>
<text transform="translate(222,1141.58) scale(1,1.036)" text-anchor="end" font-size="66.5">15</text>
<text transform="translate(222,1015.60) scale(1,1.036)" text-anchor="end" font-size="66.5">18</text>
<text transform="translate(72.8,600.1) rotate(-90) scale(1,1.03)" font-size="67">Percentage</text>
<text transform="translate(80.2,1861.5) rotate(-90) scale(1,1.03)" font-size="67">The Number of Satellites tracked</text>
<text transform="translate(1951,1434.1) rotate(-90) scale(1,1.044)" font-size="66.8">Mean Difference of GPS DCBs (ns)</text>
</svg>
</body></html>
